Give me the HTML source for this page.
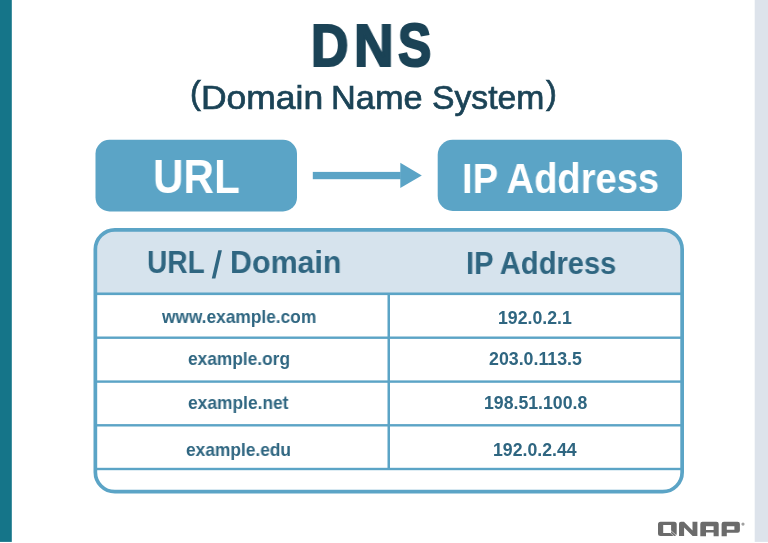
<!DOCTYPE html>
<html><head><meta charset="utf-8"><style>
html,body{margin:0;padding:0;}
body{width:768px;height:543px;position:relative;overflow:hidden;background:#ffffff;font-family:"Liberation Sans",sans-serif;}
.t{position:absolute;line-height:1;white-space:pre;transform-origin:0 0;will-change:transform;}
svg{position:absolute;left:0;top:0;}
</style></head><body>
<svg width="768" height="543" viewBox="0 0 768 543">
<rect x="0" y="0" width="11.8" height="541.9" fill="#157589"/>
<rect x="754.7" y="0" width="13.3" height="541.9" fill="#dde3eb"/>
<rect x="95.5" y="139.8" width="201.5" height="71.6" rx="14" ry="14" fill="#5ba4c6"/>
<rect x="437.7" y="139.8" width="244.3" height="71.2" rx="15" ry="15" fill="#5ba4c6"/>
<rect x="312.8" y="171.9" width="88" height="7.3" fill="#5ba4c6"/>
<path d="M400.3 162.8 L421.8 175.5 L400.3 187.9 Z" fill="#5ba4c6"/>
<path d="M95.25 293.8 V249.75 A20 20 0 0 1 115.25 229.75 H662.25 A20 20 0 0 1 682.25 249.75 V293.8 Z" fill="#d6e3ed"/>
<rect x="95.35" y="229.85" width="586.8" height="261.8" rx="19.5" ry="19.5" fill="none" stroke="#5ba4c6" stroke-width="3.7"/>
<rect x="95" y="292.5" width="588" height="2.6" fill="#5ba4c6"/>
<rect x="95" y="336.5" width="588" height="2.4" fill="#5ba4c6"/>
<rect x="95" y="380.4" width="588" height="2.4" fill="#5ba4c6"/>
<rect x="95" y="424.1" width="588" height="2.4" fill="#5ba4c6"/>
<rect x="95" y="467.8" width="588" height="2.4" fill="#5ba4c6"/>
<rect x="387.5" y="294" width="2.5" height="175" fill="#5ba4c6"/>
<path d="M218.3 250.2 L221.9 250.2 L215.4 278.6 L211.8 278.6 Z" fill="#2f6681"/>
<g fill="#6b6b6b">
<path d="M660.5 521.8 H674.2 Q676.7 521.8 676.7 524.3 V533.6 Q676.7 536.1 674.2 536.1 H660.5 Q658 536.1 658 533.6 V524.3 Q658 521.8 660.5 521.8 Z M663.2 525 V533 H671.1 V525 Z" fill-rule="evenodd"/>
<path d="M681 521.8 H684 L692.5 530.5 V521.8 H697.4 V536.1 H692.6 L684.1 527.4 V536.1 H679 V523.8 Q679 521.8 681 521.8 Z"/>
<path d="M702.5 521.8 H716.4 Q718.7 521.8 718.7 524.1 V536.2 H713.6 V532.4 H706 V536.2 H700.3 V524.1 Q700.3 521.8 702.5 521.8 Z M706 526.3 V530 H713.6 V526.3 Z" fill-rule="evenodd"/>
<path d="M723.9 521.8 H737.6 Q739.9 521.8 739.9 524.1 V530.4 Q739.9 532.7 737.6 532.7 H726.8 V536.3 H721.6 V524.1 Q721.6 521.8 723.9 521.8 Z M726.8 526.2 V529.8 H734.4 V526.2 Z" fill-rule="evenodd"/>
<circle cx="743" cy="524.1" r="1.6" fill="#a0a0a0"/>
</g>
<path d="M667.5 530 L674.5 536.6 M669.2 529.2 L676.6 535.6" stroke="#ffffff" stroke-width="0.6" fill="none"/>
</svg>
<div class="t" style="left:311.23px;top:15.52px;font-size:59.86px;font-weight:bold;color:#1b4356;transform:scaleX(0.8666);-webkit-text-stroke:2.2px #1b4356;">D</div>
<div class="t" style="left:353.54px;top:15.52px;font-size:59.86px;font-weight:bold;color:#1b4356;transform:scaleX(0.9146);-webkit-text-stroke:2.2px #1b4356;">N</div>
<div class="t" style="left:398.41px;top:14.64px;font-size:61.13px;font-weight:bold;color:#1b4356;transform:scaleX(0.8152);-webkit-text-stroke:2.2px #1b4356;">S</div>
<div class="t" style="left:189.69px;top:77.12px;font-size:32.73px;font-weight:normal;color:#1b4356;transform:scaleX(0.9743);-webkit-text-stroke:0.7px #1b4356;">(</div>
<div class="t" style="left:201.26px;top:80.56px;font-size:33.48px;font-weight:normal;color:#1b4356;transform:scaleX(1.0595);-webkit-text-stroke:0.7px #1b4356;">Domain</div>
<div class="t" style="left:331.30px;top:80.56px;font-size:33.48px;font-weight:normal;color:#1b4356;transform:scaleX(1.0258);-webkit-text-stroke:0.7px #1b4356;">Name</div>
<div class="t" style="left:432.33px;top:80.56px;font-size:33.48px;font-weight:normal;color:#1b4356;transform:scaleX(1.0068);-webkit-text-stroke:0.7px #1b4356;">System</div>
<div class="t" style="left:546.43px;top:77.12px;font-size:32.73px;font-weight:normal;color:#1b4356;transform:scaleX(0.9872);-webkit-text-stroke:0.7px #1b4356;">)</div>
<div class="t" style="left:153.37px;top:153.13px;font-size:47.54px;font-weight:bold;color:#ffffff;transform:scaleX(0.8886);">URL</div>
<div class="t" style="left:462.32px;top:157.79px;font-size:42.03px;font-weight:bold;color:#ffffff;transform:scaleX(0.9080);">IP Address</div>
<div class="t" style="left:146.81px;top:247.13px;font-size:31.45px;font-weight:bold;color:#2f6681;transform:scaleX(0.8932);">URL</div>
<div class="t" style="left:229.92px;top:247.13px;font-size:31.45px;font-weight:bold;color:#2f6681;transform:scaleX(0.9674);">Domain</div>
<div class="t" style="left:466.21px;top:247.57px;font-size:31.16px;font-weight:bold;color:#2f6681;transform:scaleX(0.9330);">IP Address</div>
<div class="t" style="left:161.50px;top:309.14px;font-size:17.70px;font-weight:bold;color:#2f6681;transform:scaleX(0.9786);">www.example.com</div>
<div class="t" style="left:188.01px;top:350.64px;font-size:17.70px;font-weight:bold;color:#2f6681;transform:scaleX(0.9786);">example.org</div>
<div class="t" style="left:188.00px;top:395.24px;font-size:17.70px;font-weight:bold;color:#2f6681;transform:scaleX(0.9830);">example.net</div>
<div class="t" style="left:186.06px;top:441.64px;font-size:17.70px;font-weight:bold;color:#2f6681;transform:scaleX(0.9804);">example.edu</div>
<div class="t" style="left:498.25px;top:309.75px;font-size:17.70px;font-weight:bold;color:#2f6681;transform:scaleX(0.9955);">192.0.2.1</div>
<div class="t" style="left:488.78px;top:351.36px;font-size:17.70px;font-weight:bold;color:#2f6681;transform:scaleX(1.0042);">203.0.113.5</div>
<div class="t" style="left:483.56px;top:394.65px;font-size:17.70px;font-weight:bold;color:#2f6681;transform:scaleX(0.9952);">198.51.100.8</div>
<div class="t" style="left:493.25px;top:441.95px;font-size:17.70px;font-weight:bold;color:#2f6681;transform:scaleX(0.9964);">192.0.2.44</div>
</body></html>
